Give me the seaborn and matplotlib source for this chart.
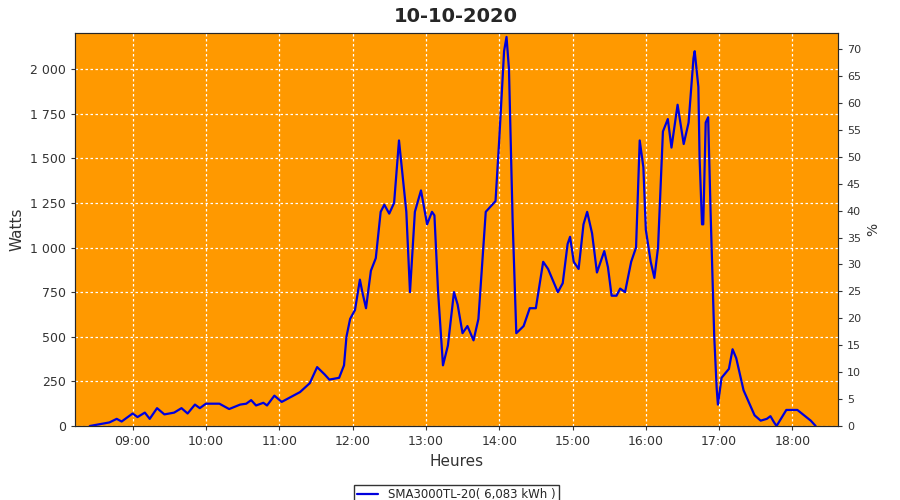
import numpy as np
import pandas as pd
import matplotlib
matplotlib.use("Agg")
import matplotlib.pyplot as plt
import matplotlib.ticker as mticker
import seaborn as sns

times = ["08:25", "08:33", "08:41", "08:47", "08:51", "09:00", "09:04", "09:10", "09:14", "09:20",
         "09:26", "09:34", "09:40", "09:45", "09:51", "09:55", "10:00", "10:11", "10:19", "10:28",
         "10:33", "10:37", "10:41", "10:47", "10:50", "10:56", "11:02", "11:17", "11:25", "11:31",
         "11:37", "11:41", "11:49", "11:53", "11:55", "11:58", "12:02", "12:06", "12:08", "12:11",
         "12:15", "12:19", "12:23", "12:26", "12:30", "12:34", "12:38", "12:44", "12:47", "12:51",
         "12:56", "13:01", "13:05", "13:07", "13:10", "13:14", "13:18", "13:23", "13:26", "13:30",
         "13:34", "13:39", "13:43", "13:49", "13:53", "13:57", "14:00", "14:04", "14:06", "14:08",
         "14:11", "14:14", "14:20", "14:25", "14:30", "14:36", "14:40", "14:48", "14:52", "14:56",
         "14:58", "15:01", "15:05", "15:09", "15:12", "15:16", "15:20", "15:26", "15:29", "15:32",
         "15:36", "15:39", "15:43", "15:48", "15:52", "15:54", "15:55", "15:58", "16:00", "16:04",
         "16:07", "16:10", "16:14", "16:18", "16:21", "16:26", "16:31", "16:35", "16:39", "16:40",
         "16:43", "16:44", "16:46", "16:47", "16:49", "16:51", "16:53", "16:56", "16:58", "16:59",
         "17:02", "17:08", "17:11", "17:14", "17:20", "17:29", "17:34", "17:39", "17:42", "17:45",
         "17:47", "17:55", "18:04", "18:15", "18:19"]
watts = [0, 10, 20, 40, 25, 70, 50, 75, 40, 100,
         65, 75, 100, 70, 120, 100, 125, 125, 95, 120,
         125, 145, 115, 130, 115, 170, 135, 190, 240, 330,
         290, 260, 270, 340, 500, 600, 650, 820, 750, 660,
         870, 940, 1200, 1240, 1190, 1250, 1600, 1200, 750, 1200,
         1320, 1130, 1200, 1180, 750, 340, 450, 750, 680, 520,
         560, 480, 600, 1200, 1230, 1260, 1600, 2100, 2180, 2000,
         1150, 520, 560, 660, 660, 920, 880, 750, 800, 1020,
         1060, 920, 880, 1130, 1200, 1080, 860, 980, 890, 730,
         730, 770, 750, 920, 1000, 1400, 1600, 1450, 1100, 920,
         830, 1000, 1650, 1720, 1560, 1800, 1580, 1700, 2060, 2100,
         1900, 1500, 1130, 1130, 1700, 1730, 1200, 500, 210, 120,
         270, 320, 430, 380, 200, 60, 30, 40, 55, 20,
         0, 90, 90, 30, 0]
hour_ticks = list(range(9, 19))
max_watts = 3017  # 100 % on the right axis

df = pd.DataFrame({"t": times, "W": watts})
df["h"] = [int(s[:2]) + int(s[3:]) / 60 for s in df["t"]]

sns.set_style("ticks")
plt.rcParams["font.family"] = ["DejaVu Sans"]

fig = plt.figure(figsize=(9, 5), dpi=100)
ax = fig.add_axes([0.083, 0.148, 0.848, 0.786])
ax.set_facecolor("#FF9900")
sns.lineplot(data=df, x="h", y="W", ax=ax, color="#0000DD", lw=1.6,
             label="SMA3000TL-20( 6,083 kWh )")
ax.set_xlim(8.21, 18.62)
ax.set_ylim(0, 2202)
ax.set_xticks(hour_ticks)
ax.set_xticklabels([f"{h:02d}:00" for h in hour_ticks])
ax.yaxis.set_major_locator(mticker.MultipleLocator(250))
ax.yaxis.set_major_formatter(mticker.FuncFormatter(
    lambda v, p: f"{int(v):,}".replace(",", "\u00a0")))
ax.grid(color="white", linestyle=(0, (2, 2)), lw=0.9)
ax.tick_params(labelsize=9, colors="#333333", length=3)
ax.set_xlabel("Heures", fontsize=11, color="#333333")
ax.set_ylabel("Watts", fontsize=11, color="#333333")
ax.set_title("10-10-2020", fontsize=14, fontweight="bold", pad=8)

ax2 = ax.twinx()
ax2.set_ylim(0, 2202 / max_watts * 100)
ax2.yaxis.set_major_locator(mticker.MultipleLocator(5))
ax2.tick_params(labelsize=8, colors="#333333", length=3)
ax2.set_ylabel("%", fontsize=10, color="#333333")

leg = ax.legend(loc="upper center", bbox_to_anchor=(0.5, -0.135), frameon=True,
                fontsize=8.5, fancybox=False, edgecolor="black", handlelength=1.8,
                borderpad=0.3)
for s in ax.spines.values():
    s.set_color("#666666")

fig.savefig("out.png", dpi=100)
